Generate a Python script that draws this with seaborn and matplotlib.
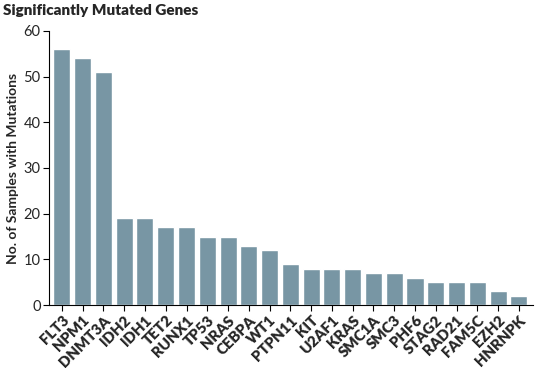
import matplotlib
matplotlib.use("Agg")
import matplotlib.pyplot as plt
import seaborn as sns
import pandas as pd

genes = ["FLT3", "NPM1", "DNMT3A", "IDH2", "IDH1", "TET2", "RUNX1", "TP53", "NRAS",
         "CEBPA", "WT1", "PTPN11", "KIT", "U2AF1", "KRAS", "SMC1A", "SMC3", "PHF6",
         "STAG2", "RAD21", "FAM5C", "EZH2", "HNRNPK"]
counts = [56, 54, 51, 19, 19, 17, 17, 15, 15, 13, 12, 9, 8, 8, 8, 7, 7, 6, 5, 5, 5, 3, 2]
yticks = [0, 10, 20, 30, 40, 50, 60]

sns.set_style("ticks")
plt.rcParams['font.family'] = ['Lato', 'DejaVu Sans']

df = pd.DataFrame({"gene": genes, "count": counts})
fig = plt.figure(figsize=(5.47, 3.68), dpi=100)
ax = fig.add_axes([0.0896, 0.171, 0.884, 0.745])
sns.barplot(data=df, x="gene", y="count", color="#7896A4", saturation=1,
            width=0.82, ax=ax)
ax.set_ylim(0, 60)
ax.set_xlim(-0.62, 22.66)
ax.set_yticks(yticks)
ax.set_yticklabels([str(v) for v in yticks], fontsize=10.5)
ax.set_xlabel("")
ax.set_ylabel("No. of Samples with Mutations", fontsize=10, fontweight="bold", labelpad=3)
plt.setp(ax.get_xticklabels(), rotation=45, ha="right", rotation_mode="anchor",
         fontsize=10.8, fontweight="heavy")
ax.tick_params(axis="both", length=4, width=0.8, color="black", pad=2)
for s in ["top", "right"]:
    ax.spines[s].set_visible(False)
for s in ["left", "bottom"]:
    ax.spines[s].set_color("black")
    ax.spines[s].set_linewidth(0.8)
fig.text(0.006, 0.972, "Significantly Mutated Genes", fontsize=11, fontweight="heavy",
         va="center", ha="left")
fig.savefig("out.png", dpi=100)
